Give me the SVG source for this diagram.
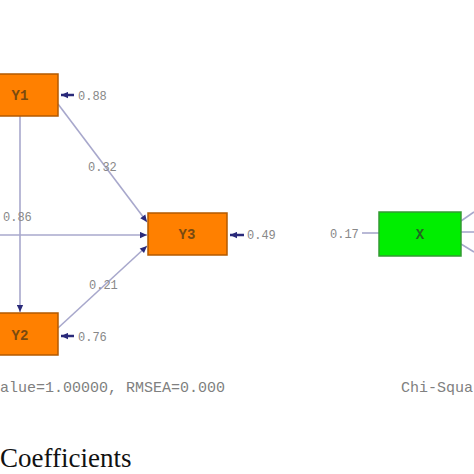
<svg xmlns="http://www.w3.org/2000/svg" width="474" height="474" viewBox="0 0 474 474">
<defs>
<marker id="ah" viewBox="0 0 10 10" refX="10" refY="5" markerWidth="8" markerHeight="7" markerUnits="userSpaceOnUse" orient="auto">
<path d="M0,0.5 L10,5 L0,9.5 z" fill="#2a2a7a"/>
</marker>
<style>
.edge{stroke:#a8a8cc;stroke-width:1.6;fill:none}
.res{stroke:#2a2a7a;stroke-width:2.5;fill:none}
.box{fill:#ff8000;stroke:#b35a00;stroke-width:1.5}
.boxg{fill:#00ee00;stroke:#339933;stroke-width:1.5}
.nt{font-family:"Liberation Mono",monospace;font-size:14px;fill:#7a4a10;text-anchor:middle;font-weight:bold}
.lab{font-family:"Liberation Mono",monospace;font-size:12px;fill:#888888}
.fit{font-family:"Liberation Mono",monospace;font-size:15px;fill:#808080}
</style>
</defs>
<rect width="474" height="474" fill="#ffffff"/>
<g id="connectors">
<line class="edge" x1="20" y1="116" x2="20" y2="312" marker-end="url(#ah)"/>
<line class="edge" x1="0" y1="235" x2="147" y2="235" marker-end="url(#ah)"/>
<line class="edge" x1="58" y1="104" x2="147" y2="222" marker-end="url(#ah)"/>
<line class="edge" x1="58" y1="328" x2="147" y2="246" marker-end="url(#ah)"/>
<line class="edge" x1="362" y1="233" x2="379" y2="233"/>
<line class="edge" x1="461" y1="221" x2="474" y2="212"/>
<line class="edge" x1="461" y1="232" x2="474" y2="232"/>
<line class="edge" x1="461" y1="244" x2="474" y2="252"/>
<line class="res" x1="74" y1="95" x2="61" y2="95" marker-end="url(#ah)"/>
<line class="res" x1="244" y1="235" x2="230" y2="235" marker-end="url(#ah)"/>
<line class="res" x1="74" y1="336" x2="61" y2="336" marker-end="url(#ah)"/>
<text class="lab" x="3" y="221">0.86</text>
<text class="lab" x="88" y="171">0.32</text>
<text class="lab" x="89" y="289">0.21</text>
<text class="lab" x="78" y="100">0.88</text>
<text class="lab" x="247" y="239">0.49</text>
<text class="lab" x="78" y="341">0.76</text>
<text class="lab" x="330" y="238">0.17</text>
</g>
<g id="Y1"><rect class="box" x="-6" y="74" width="64" height="42"/><text class="nt" x="20" y="100">Y1</text></g>
<g id="Y3"><rect class="box" x="148" y="213" width="79" height="42"/><text class="nt" x="187" y="239">Y3</text></g>
<g id="Y2"><rect class="box" x="-6" y="313" width="64" height="42"/><text class="nt" x="20" y="340">Y2</text></g>
<g id="X"><rect class="boxg" x="379" y="212" width="82" height="44"/><text class="nt" x="420" y="239" style="fill:#226622">X</text></g>
<text class="fit" x="0" y="392">alue=1.00000, RMSEA=0.000</text>
<text class="fit" x="401" y="392">Chi-Squa</text>
<text x="0" y="467" font-family="Liberation Serif,serif" font-size="27" fill="#111111">Coefficients</text>
</svg>
